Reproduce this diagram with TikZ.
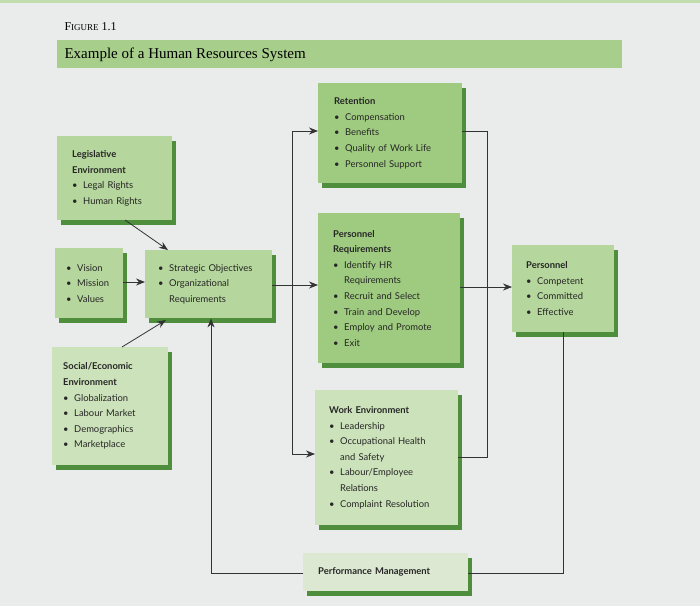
\documentclass[tikz,border=0pt]{standalone}
\usepackage{fontspec}
\setmainfont{Lato}
\newfontfamily\serifx{Liberation Serif}
\usetikzlibrary{shadows,arrows.meta}
\definecolor{bg}{HTML}{E9ECEA}
\definecolor{gA}{HTML}{9FCB80}
\definecolor{gB}{HTML}{B5D69C}
\definecolor{gC}{HTML}{CCE2BA}
\definecolor{gD}{HTML}{DCE8D2}
\definecolor{sh}{HTML}{4E8E3C}
\definecolor{band}{HTML}{A8CE8C}
\newcommand\bl{\makebox[11pt][l]{\textbullet}}
\newcommand\ind{\hspace*{11pt}}
\tikzset{
 box/.style={draw=none, anchor=north west, inner sep=0pt, align=left,
   font=\fontsize{9.4}{15.6}\selectfont, text=black!85,
   drop shadow={shadow xshift=4pt, shadow yshift=-5pt, fill=sh, opacity=1}},
 arr/.style={draw=black!80, line width=0.8pt, -{Stealth[length=9pt,width=7pt]}},
 ln/.style={draw=black!80, line width=0.8pt}
}
\begin{document}
\begin{tikzpicture}[x=1pt,y=-1pt]
\fill[bg] (0,0) rectangle (700,606);
\fill[band!70] (0,0) rectangle (700,3);
\node[anchor=west, font=\serifx\fontsize{12}{14}\selectfont] (fig) at (61,27) {F{\fontsize{9}{10}\selectfont IGURE} 1.1};
\fill[band] (57,40) rectangle (622,68);
\node[anchor=west, font=\serifx\fontsize{15}{17}\selectfont] (ttl) at (61,55) {Example of a Human Resources System};

\node[box, fill=gB, minimum width=115pt, minimum height=84pt, text width=85pt] (leg) at (57,136)
 {\textbf{Legislative}\\\textbf{Environment}\\\bl Legal Rights\\\bl Human Rights};
\node[box, fill=gB, minimum width=68pt, minimum height=70pt, text width=46pt] (vis) at (55,248)
 {\bl Vision\\\bl Mission\\\bl Values};
\node[box, fill=gB, minimum width=127pt, minimum height=68pt, text width=101pt] (str) at (145,250)
 {\bl Strategic Objectives\\\bl Organizational\\\ind Requirements};
\node[box, fill=gC, minimum width=116pt, minimum height=118pt, text width=94pt] (soc) at (52,347)
 {\textbf{Social/Economic}\\\textbf{Environment}\\\bl Globalization\\\bl Labour Market\\\bl Demographics\\\bl Marketplace};
\node[box, fill=gA, minimum width=144pt, minimum height=100pt, text width=112pt] (ret) at (318,83)
 {\textbf{Retention}\\\bl Compensation\\\bl Benefits\\\bl Quality of Work Life\\\bl Personnel Support};
\node[box, fill=gA, minimum width=142pt, minimum height=150pt, text width=112pt] (req) at (318,213)
 {\textbf{Personnel}\\\textbf{Requirements}\\\bl Identify HR\\\ind Requirements\\\bl Recruit and Select\\\bl Train and Develop\\\bl Employ and Promote\\\bl Exit};
\node[box, fill=gC, minimum width=143pt, minimum height=135pt, text width=115pt] (wrk) at (315,390)
 {\textbf{Work Environment}\\\bl Leadership\\\bl Occupational Health\\\ind and Safety\\\bl Labour/Employee\\\ind Relations\\\bl Complaint Resolution};
\node[box, fill=gB, minimum width=102pt, minimum height=87pt, text width=74pt] (per) at (512,245)
 {\textbf{Personnel}\\\bl Competent\\\bl Committed\\\bl Effective};
\node[box, fill=gD, minimum width=165pt, minimum height=38pt, text width=135pt] (pm) at (303,553)
 {\textbf{Performance Management}};

\draw[arr] (125,220) -- (168,250);
\draw[arr] (vis.east |- 0,282) -- (str.west |- 0,282);
\draw[arr] (122,347) -- (166,320);
\draw[arr] (str.east |- 0,285) -- (req.west |- 0,285);
\draw[arr] (292,285) |- (ret.west |- 0,131);
\draw[arr] (292,285) |- (wrk.west |- 0,454);
\draw[ln] (ret.east |- 0,131) -| (487,457) -- (wrk.east |- 0,457);
\draw[arr] (req.east |- 0,287) -- (per.west |- 0,287);
\draw[ln] (per.south -| 563,0) |- (pm.east |- 0,573);
\draw[arr] (pm.west |- 0,573) -| (str.south -| 211,0);
\end{tikzpicture}
\end{document}
